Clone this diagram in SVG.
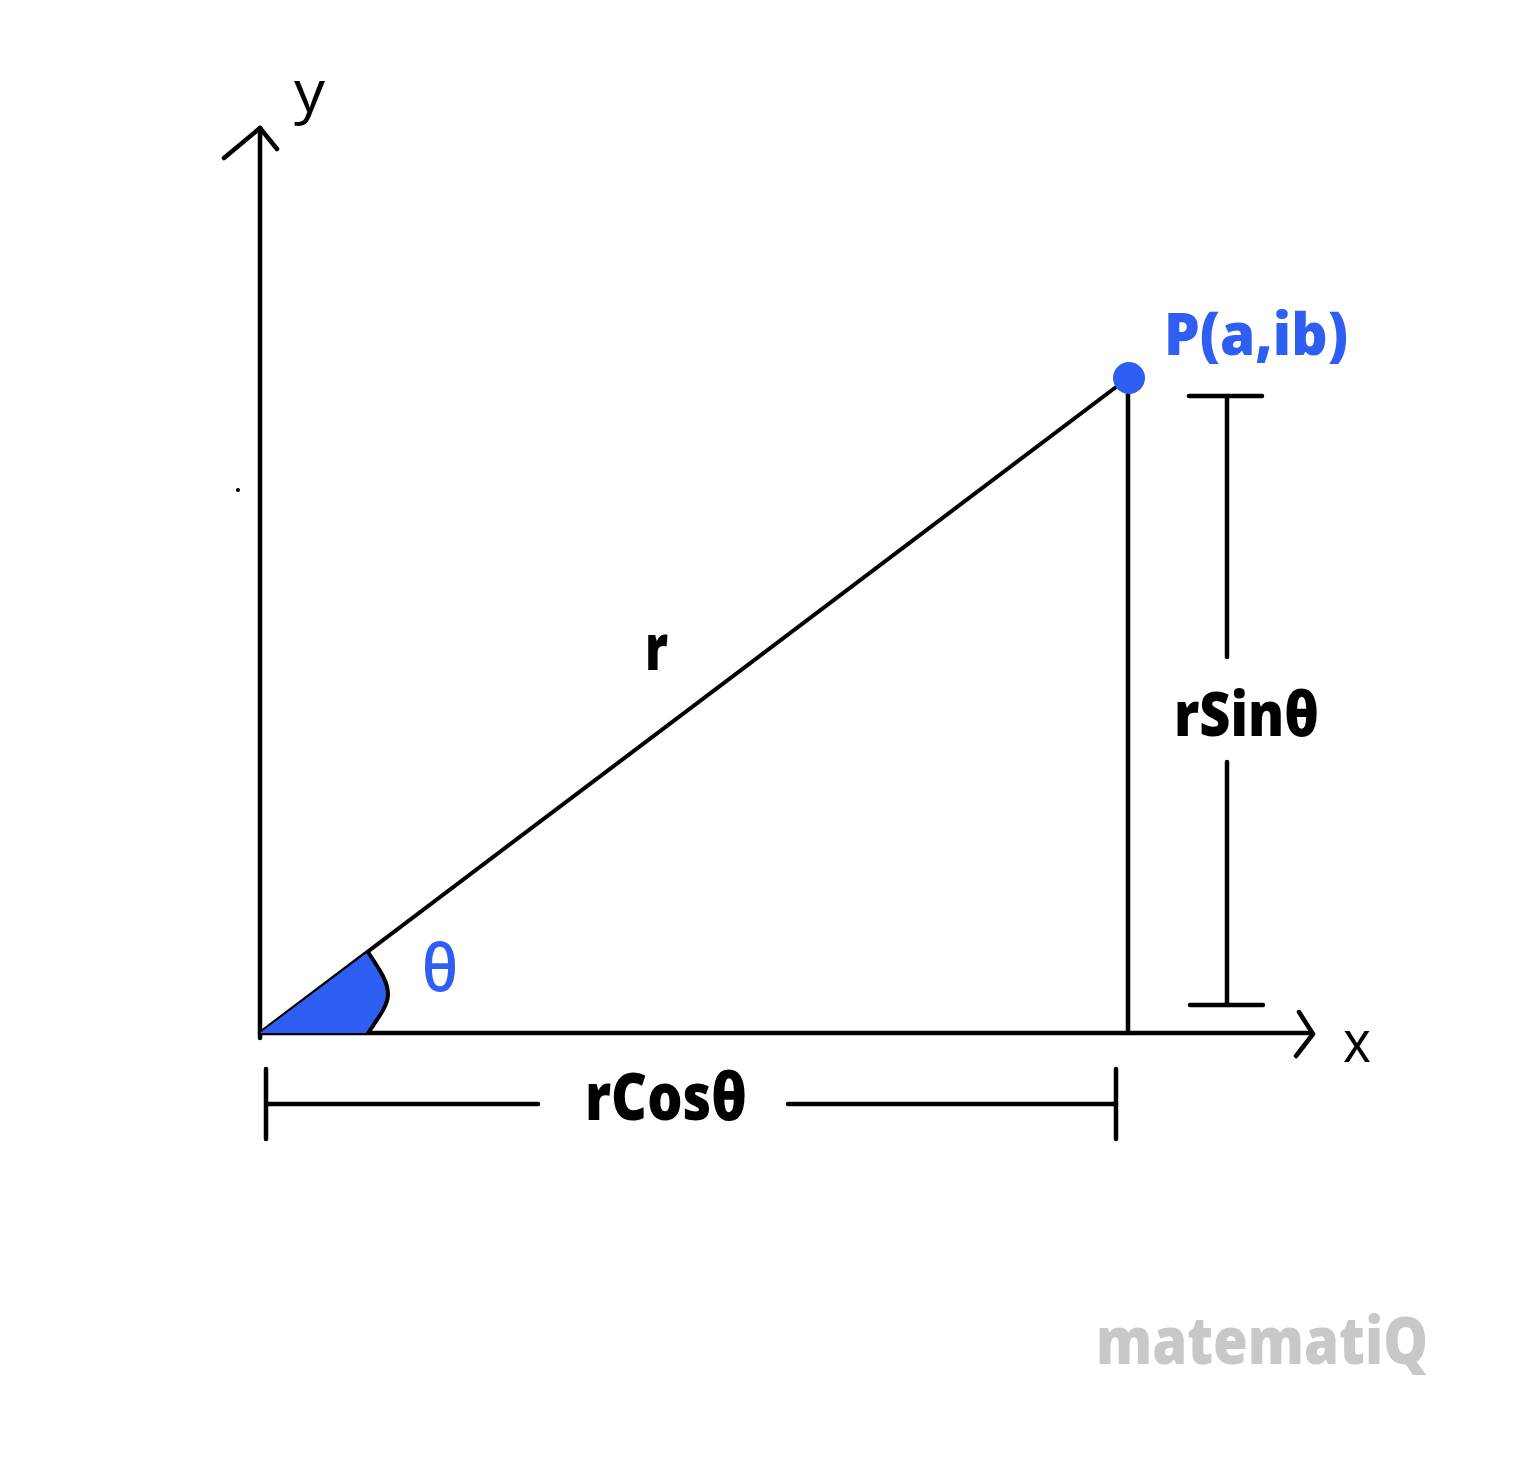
<svg xmlns="http://www.w3.org/2000/svg" width="1536" height="1466" viewBox="0 0 1536 1466">
<style>
.ln{stroke:#000;stroke-width:4.5;fill:none;stroke-linecap:round;stroke-linejoin:round}
.b{font-family:"Open Sans","Liberation Sans",sans-serif;font-weight:800}
.rg{font-family:"Open Sans","Liberation Sans",sans-serif;font-weight:normal}
.blue{fill:#2f5ff2}
</style>
<rect width="1536" height="1466" fill="#fff"/>
<g id="connectors">
<line class="ln" x1="260" y1="1038" x2="260" y2="128"/>
<polyline class="ln" points="224,158 260,128 277,149"/>
<line class="ln" x1="260" y1="1033" x2="1312" y2="1033"/>
<polyline class="ln" points="1299,1012 1313,1034 1296,1056"/>
<line class="ln" x1="260" y1="1033" x2="1128" y2="378" style="stroke-width:4"/>
<line class="ln" x1="1128" y1="378" x2="1128" y2="1033"/>
<line class="ln" x1="1227" y1="396" x2="1227" y2="657"/>
<line class="ln" x1="1227" y1="762" x2="1227" y2="1005"/>
<line class="ln" x1="1189" y1="396" x2="1262" y2="396"/>
<line class="ln" x1="1190" y1="1005" x2="1263" y2="1005"/>
<line class="ln" x1="266" y1="1069" x2="266" y2="1139"/>
<line class="ln" x1="1116" y1="1069" x2="1116" y2="1139"/>
<line class="ln" x1="266" y1="1104" x2="538" y2="1104"/>
<line class="ln" x1="788" y1="1104" x2="1116" y2="1104"/>
</g>
<g id="angle">
<path d="M260,1033 L368,952 C380,970 388,982 388,994 C388,1006 378,1018 368,1033 Z" fill="#2f5ff2" stroke="none"/>
<path class="ln" d="M368,952 C380,970 388,982 388,994 C388,1006 378,1018 368,1033" style="stroke-width:4"/>
</g>
<g id="point">
<circle cx="1129" cy="378" r="16" fill="#2f5ff2"/>
</g>
<g id="labels">
<text class="rg" x="294" y="112" font-size="58" textLength="31" lengthAdjust="spacingAndGlyphs">y</text>
<text class="rg" x="1343" y="1062" font-size="58" textLength="28" lengthAdjust="spacingAndGlyphs">x</text>
<text class="b blue" x="1164" y="355" font-size="58" textLength="184" lengthAdjust="spacingAndGlyphs">P(a,ib)</text>
<text class="b" x="645" y="670" font-size="64" textLength="23" lengthAdjust="spacingAndGlyphs">r</text>
<text class="b" x="1174" y="736" font-size="62" textLength="145" lengthAdjust="spacingAndGlyphs">rSinθ</text>
<text class="b" x="585" y="1120" font-size="66" textLength="162" lengthAdjust="spacingAndGlyphs">rCosθ</text>
<text class="rg blue" x="422" y="991" font-size="66" style="font-weight:600" textLength="36" lengthAdjust="spacingAndGlyphs">θ</text>
<text class="b" x="1096" y="1364" font-size="66" fill="#c8c8c8" textLength="332" lengthAdjust="spacingAndGlyphs">matematiQ</text>
<circle cx="238" cy="490" r="2" fill="#000"/>
</g>
</svg>
